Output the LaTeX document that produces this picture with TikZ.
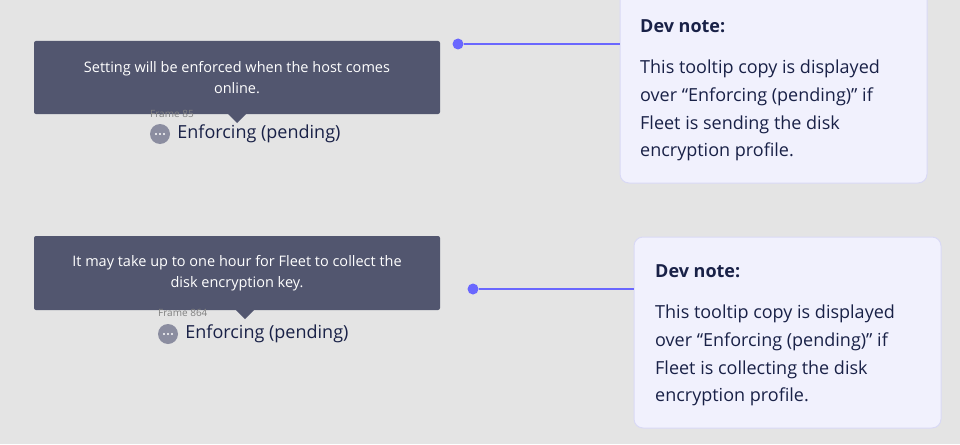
\documentclass[tikz,border=0pt]{standalone}
\usepackage{fontspec}
\setmainfont{Open Sans}
\usetikzlibrary{positioning}
\definecolor{bgc}{HTML}{E4E4E4}
\definecolor{tipc}{HTML}{52566F}
\definecolor{inkc}{HTML}{192147}
\definecolor{notec}{HTML}{F1F1FD}
\definecolor{noteb}{HTML}{D9D9F5}
\definecolor{linkc}{HTML}{6A67FE}
\definecolor{iconc}{HTML}{8B8DA0}
\tikzset{
	tip box/.style={fill=tipc,rounded corners=2pt},
	tip text/.style={text=white,font=\fontsize{14.5}{21}\selectfont,align=center},
	frame lbl/.style={text=gray,font=\fontsize{10}{10}\selectfont,anchor=west,inner sep=0pt},
	status icon/.style={circle,fill=iconc,minimum size=20pt,inner sep=0pt},
	status text/.style={text=inkc,font=\fontsize{18}{18}\selectfont,anchor=west,inner sep=0pt},
	note box/.style={fill=notec,draw=noteb,rounded corners=9pt,line width=1pt},
	note text/.style={text=inkc,font=\fontsize{18}{27.7}\selectfont,anchor=north west,align=left,inner sep=0pt},
	link dot/.style={circle,fill=linkc,minimum size=11pt,inner sep=0pt},
	link/.style={draw=linkc,line width=1.2pt}
}
\begin{document}
\begin{tikzpicture}[x=1pt,y=-1pt]
	\fill[bgc] (0,0) rectangle (960,444);
	\useasboundingbox (0,0) rectangle (960,444);
	% first tooltip
	\fill[tip box] (34,41) rectangle (440,114);
	\fill[tipc] (228,114) -- (237,123) -- (246,114) -- cycle;
	\node[tip text] (tip1) at (237,77.5) {Setting will be enforced when the host comes\\online.};
	\node[frame lbl] (frame1) at (150,114) {Frame 85};
	\node[status icon] (icon1) at (160,134) {};
	\foreach \dx in {-4,0,4} \fill[white] (160+\dx,134) circle (1.1pt);
	\node[status text, right=7pt of icon1] (status1) {Enforcing (pending)};
	% first note
	\draw[note box] (620,-12) rectangle (927,183);
	\node[note text,font=\bfseries\fontsize{18}{27.7}\selectfont] (head1) at (640,19) {Dev note:};
	\node[note text] (body1) at (640,60) {This tooltip copy is displayed\\over “Enforcing (pending)” if\\Fleet is sending the disk\\encryption profile.};
	\node[link dot] (dot1) at (458,44) {};
	\coordinate (end1) at (620,44);
	\draw[link] (dot1) -- (end1);
	% second tooltip
	\fill[tip box] (34,236) rectangle (440,310);
	\fill[tipc] (236,310) -- (245,319) -- (254,310) -- cycle;
	\node[tip text] (tip2) at (237,273.5) {It may take up to one hour for Fleet to collect the\\disk encryption key.};
	\node[frame lbl] (frame2) at (158,313) {Frame 864};
	\node[status icon] (icon2) at (168,334) {};
	\foreach \dx in {-4,0,4} \fill[white] (168+\dx,334) circle (1.1pt);
	\node[status text, right=7pt of icon2] (status2) {Enforcing (pending)};
	% second note
	\draw[note box] (634,237) rectangle (941,428);
	\node[note text,font=\bfseries\fontsize{18}{27.7}\selectfont] (head2) at (655,264) {Dev note:};
	\node[note text] (body2) at (655,305) {This tooltip copy is displayed\\over “Enforcing (pending)” if\\Fleet is collecting the disk\\encryption profile.};
	\node[link dot] (dot2) at (473,289) {};
	\coordinate (end2) at (634,289);
	\draw[link] (dot2) -- (end2);
\end{tikzpicture}
\end{document}
